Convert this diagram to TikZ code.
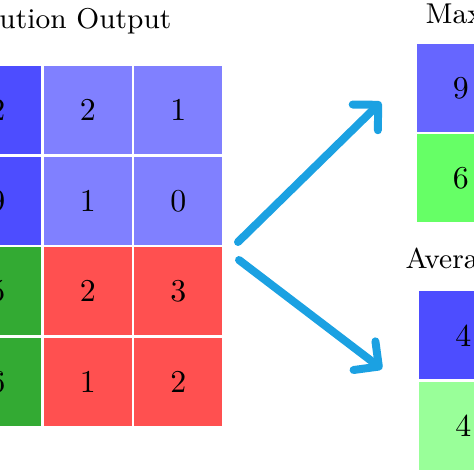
\documentclass[tikz,border=0pt]{standalone}
\usepackage{tikz}
\usepackage{xcolor}
\usetikzlibrary{arrows.meta}
\definecolor{convBlue}{RGB}{77,77,255}
\definecolor{convLight}{RGB}{128,128,255}
\definecolor{convGreen}{RGB}{51,170,51}
\definecolor{convRed}{RGB}{255,80,80}
\definecolor{maxBlue}{RGB}{102,102,255}
\definecolor{maxGreen}{RGB}{102,255,102}
\definecolor{avgBlue}{RGB}{77,77,255}
\definecolor{avgGreen}{RGB}{153,255,153}
\definecolor{poolCyan}{RGB}{27,161,226}

\begin{document}
\begin{tikzpicture}[
    x=0.314pt, y=-0.314pt,
    every node/.style={font=\normalsize},
    cellbox/.style={rectangle, draw=white, line width=0.8pt, minimum size=28.4pt, inner sep=0pt},
    titletext/.style={font=\small, inner sep=0pt},
    poolarrow/.style={-{Straight Barb[angle=90:8pt, round]}, line width=2.5pt, line cap=round, draw=poolCyan}
]
\useasboundingbox (0,0) rectangle (474,474);
\clip (0,0) rectangle (474,474);
% convolution output
\node[titletext, anchor=base east] (convtitle) at (172,28) {Convolution Output};
\node[cellbox, fill=convBlue]  (c12) at (-2.75,110.25) {2};
\node[cellbox, fill=convLight] (c13) at (87.75,110.25) {2};
\node[cellbox, fill=convLight] (c14) at (178.25,110.25) {1};
\node[cellbox, fill=convBlue]  (c22) at (-2.75,200.75) {9};
\node[cellbox, fill=convLight] (c23) at (87.75,200.75) {1};
\node[cellbox, fill=convLight] (c24) at (178.25,200.75) {0};
\node[cellbox, fill=convGreen] (c32) at (-2.75,291.25) {5};
\node[cellbox, fill=convRed]   (c33) at (87.75,291.25) {2};
\node[cellbox, fill=convRed]   (c34) at (178.25,291.25) {3};
\node[cellbox, fill=convGreen] (c42) at (-2.75,381.75) {6};
\node[cellbox, fill=convRed]   (c43) at (87.75,381.75) {1};
\node[cellbox, fill=convRed]   (c44) at (178.25,381.75) {2};
% max pooling
\node[titletext, anchor=base west] (maxtitle) at (425,23) {Max Pooling};
\node[cellbox, fill=maxBlue]  (m11) at (460.75,87.75) {9};
\node[cellbox, fill=maxGreen] (m21) at (460.75,178.25) {6};
% average pooling
\node[titletext, anchor=base west] (avgtitle) at (405,268) {Average Pooling};
\node[cellbox, fill=avgBlue]  (a11) at (463.25,335.25) {4};
\node[cellbox, fill=avgGreen] (a21) at (463.25,425.75) {4};
% arrows
\coordinate (upstart) at (238,242);
\coordinate (upend) at (381,102);
\coordinate (downstart) at (239,260);
\coordinate (downend) at (382,369);
\draw[poolarrow] (upstart) -- (upend);
\draw[poolarrow] (downstart) -- (downend);
\end{tikzpicture}
\end{document}
